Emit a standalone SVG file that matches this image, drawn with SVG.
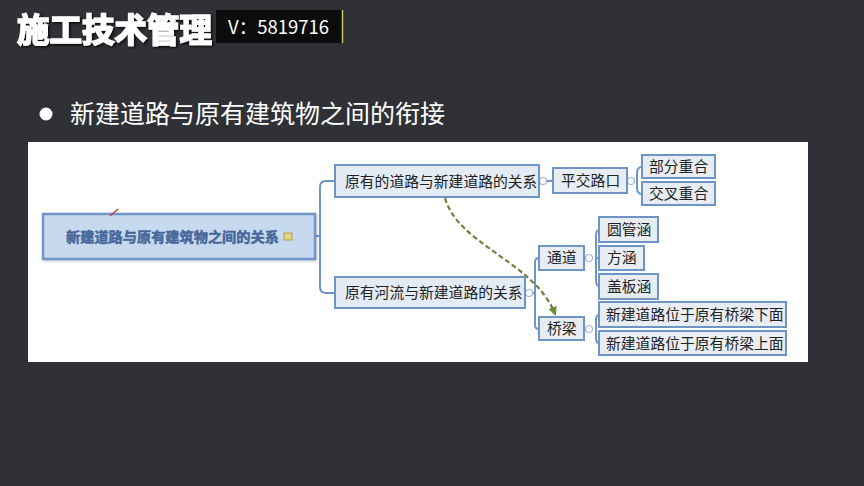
<svg xmlns="http://www.w3.org/2000/svg" width="864" height="486" viewBox="0 0 864 486">
<style>
.bg{fill:#2f3137}
.cjk{font-family:"Noto Sans CJK SC","Noto Sans",sans-serif}
.box{fill:#e8edf4;stroke:#6f95c6;stroke-width:2}
.br{fill:#e3ebf5;stroke:#6f95c6;stroke-width:2}
.lbl{font-family:"Noto Sans CJK SC","Noto Sans",sans-serif;font-size:14.8px;fill:#222}
.conn{fill:none;stroke:#6f95c6;stroke-width:2}
.dot{fill:#fff;stroke:#9db5d6;stroke-width:1.2}
</style>
<defs>
<marker id="ah" viewBox="0 0 10 10" refX="8" refY="5" markerWidth="4" markerHeight="4" orient="auto">
<path d="M0,0 L10,5 L0,10 z" fill="#6e8e2c"/>
</marker>
<filter id="sh" x="-5%" y="-20%" width="110%" height="140%">
<feDropShadow dx="1" dy="1" stdDeviation="1.2" flood-color="#000" flood-opacity="0.25"/>
</filter>
<filter id="tsh" x="-5%" y="-20%" width="110%" height="150%">
<feDropShadow dx="1.5" dy="1.5" stdDeviation="0.8" flood-color="#000" flood-opacity="0.8"/>
</filter>
</defs>
<rect class="bg" x="0" y="0" width="864" height="486"/>
<g id="title">
<text x="17" y="42" class="cjk" font-size="32.5" font-weight="700" fill="#fff" stroke="#fff" stroke-width="1.6" filter="url(#tsh)">施工技术管理</text>
<rect x="216" y="10" width="126" height="33" fill="#0c0c0c"/>
<line x1="342.5" y1="10" x2="342.5" y2="43" stroke="#c9c25e" stroke-width="1.5"/>
<text x="228" y="34" font-family="Noto Sans CJK SC, Noto Sans, sans-serif" font-size="18.5" fill="#fff">V：5819716</text>
</g>
<g id="heading">
<circle cx="46" cy="114" r="6.5" fill="#fff"/>
<text x="70" y="123" class="cjk" font-size="25" fill="#fff">新建道路与原有建筑物之间的衔接</text>
</g>
<rect x="28" y="142" width="780" height="220" fill="#fff"/>
<g id="connectors">
<path class="conn" d="M315,236 H320 M335,181 H326 Q320,181 320,187 V287 Q320,293 326,293 H335"/>
<path class="conn" d="M539,181 H553"/>
<path class="conn" d="M631,181 H634 M642,167 Q637,167 637,173 V188 Q637,194 642,194"/>
<path class="conn" d="M525,293 H535 M539,258 Q535,258 535,262 V325 Q535,329 539,329"/>
<path class="conn" d="M584,258 H592 M599,230 Q596,230 596,236 V280 Q596,286 599,286 M596,258 H599"/>
<path class="conn" d="M584,329 H592 M599,315 Q596,315 596,320 V338 Q596,343 599,343"/>
<circle class="dot" cx="543" cy="181" r="3.5"/>
<circle class="dot" cx="631" cy="181" r="3.5"/>
<circle class="dot" cx="529" cy="293" r="3.5"/>
<circle class="dot" cx="589" cy="258" r="3.5"/>
<circle class="dot" cx="589" cy="329" r="3.5"/>
<path d="M445,198 C458,245 535,262 555,314" fill="none" stroke="#7a7b3c" stroke-width="2.2" stroke-dasharray="5,3" marker-end="url(#ah)"/>
</g>
<g id="root">
<rect x="43" y="214" width="272" height="45" fill="#c6d9ef" stroke="#6f95c6" stroke-width="2.5" filter="url(#sh)"/>
<text x="66" y="242" class="cjk" font-size="14.2" font-weight="700" fill="#47679a" stroke="#47679a" stroke-width="0.5">新建道路与原有建筑物之间的关系</text>
<rect x="284" y="233" width="8" height="7" fill="#e8d486" stroke="#b59c4a" stroke-width="1"/>
<path d="M110,216 L118,209" stroke="#b84a4a" stroke-width="1.5"/>
</g>
<g id="b1">
<rect class="br" x="335" y="165" width="204" height="32"/>
<text x="345" y="187" class="lbl" font-size="14.2">原有的道路与新建道路的关系</text>
</g>
<g id="b2">
<rect class="br" x="335" y="277" width="190" height="31"/>
<text x="345" y="298" class="lbl" font-size="14.2">原有河流与新建道路的关系</text>
</g>
<g id="pjlk">
<rect class="box" x="553" y="168" width="74" height="25"/>
<text x="561" y="186" class="lbl">平交路口</text>
</g>
<g id="bfch">
<rect class="box" x="642" y="155" width="73" height="23"/>
<text x="649" y="172" class="lbl">部分重合</text>
</g>
<g id="jcch">
<rect class="box" x="642" y="182" width="73" height="23"/>
<text x="649" y="199" class="lbl">交叉重合</text>
</g>
<g id="td">
<rect class="box" x="539" y="246" width="45" height="24"/>
<text x="547" y="263" class="lbl">通道</text>
</g>
<g id="ql">
<rect class="box" x="539" y="317" width="45" height="23"/>
<text x="547" y="334" class="lbl">桥梁</text>
</g>
<g id="ygh">
<rect class="box" x="599" y="217" width="59" height="25"/>
<text x="607" y="235" class="lbl">圆管涵</text>
</g>
<g id="fh">
<rect class="box" x="599" y="246" width="45" height="24"/>
<text x="607" y="263" class="lbl">方涵</text>
</g>
<g id="gbh">
<rect class="box" x="599" y="274" width="59" height="25"/>
<text x="607" y="292" class="lbl">盖板涵</text>
</g>
<g id="xia">
<rect class="box" x="599" y="302" width="187" height="25"/>
<text x="606" y="320" class="lbl" font-size="14.4">新建道路位于原有桥梁下面</text>
</g>
<g id="shang">
<rect class="box" x="599" y="331" width="187" height="24"/>
<text x="606" y="349" class="lbl" font-size="14.4">新建道路位于原有桥梁上面</text>
</g>
</svg>
